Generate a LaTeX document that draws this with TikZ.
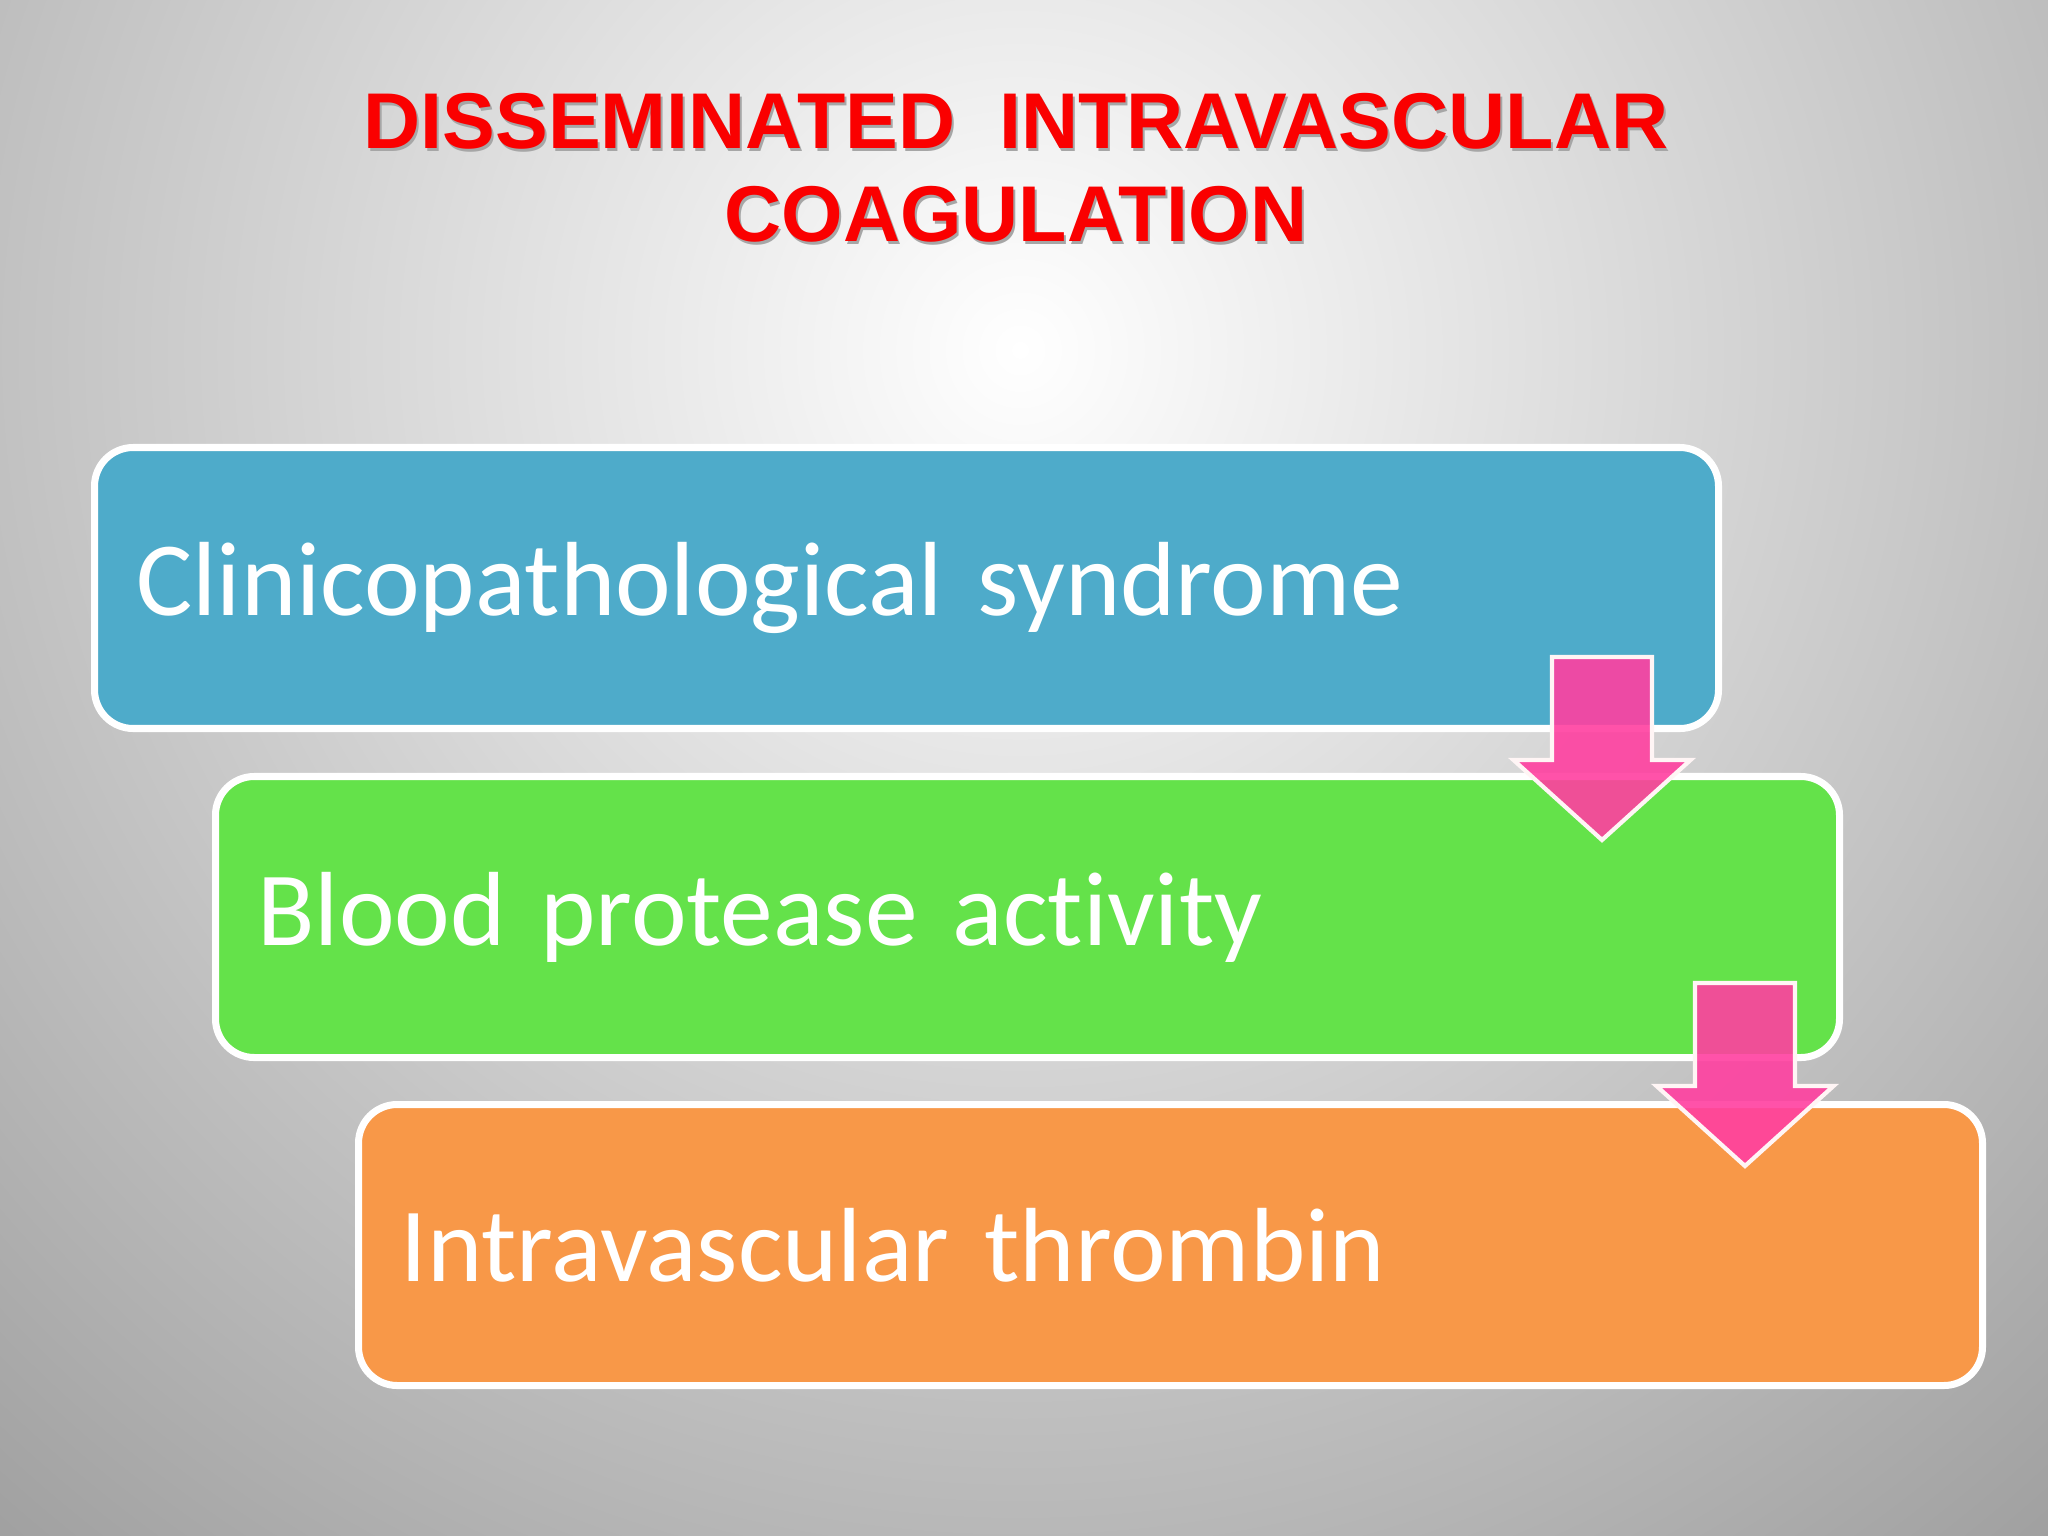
\documentclass[tikz,border=0pt]{standalone}
\usepackage{fontspec}
\setmainfont{Carlito}[Ligatures={NoCommon}]
\newfontfamily\titlefont{Liberation Sans}
\usetikzlibrary{positioning}
\definecolor{boxblue}{RGB}{78,171,202}
\definecolor{boxgreen}{RGB}{100,226,74}
\definecolor{boxorange}{RGB}{248,152,72}
\definecolor{arrowpink}{RGB}{255,64,160}
\definecolor{titlered}{RGB}{250,0,0}
\begin{document}
\begin{tikzpicture}[
    stepbox/.style={draw=white, line width=2pt, rounded corners=11pt,
      minimum width=16.24cm, minimum height=2.81cm, inner sep=0pt,
      text=white, font=\fontsize{30}{36}\selectfont, align=left,
      text width=15.4cm},
    titletext/.style={font=\titlefont\bfseries\fontsize{22.5}{26.5}\selectfont,
      text=titlered, align=center},
    downarrow/.style={fill=arrowpink, fill opacity=0.9, draw=white!85!pink,
      line width=1.2pt}
  ]
  \useasboundingbox (0,0) rectangle (20.48,-15.36);
  \begin{scope}
    \clip (0,0) rectangle (20.48,-15.36);
    \shade[inner color=white, outer color=black!45] (10.2,-3.5) circle (19cm);
  \end{scope}

  % title with soft shadow
  \node[titletext, text=black!35] at (10.18,-1.71) {DISSEMINATED\ \ INTRAVASCULAR\\COAGULATION};
  \node[titletext] (title) at (10.16,-1.68) {DISSEMINATED\ \ INTRAVASCULAR\\COAGULATION};

  % steps
  \node[stepbox, fill=boxblue, anchor=north west] (s1) at (0.91,-4.44) {Clinicopathological syndrome};
  \node[stepbox, fill=boxgreen, anchor=north west] (s2) at (2.12,-7.73) {Blood protease activity};
  \node[stepbox, fill=boxorange, anchor=north west] (s3) at (3.55,-11.01) {Intravascular thrombin};

  % arrows
  \coordinate (a1) at (16.02,-6.57);
  \coordinate (a2) at (17.45,-9.83);
  \foreach \a in {a1,a2}
    \draw[downarrow] ([xshift=-0.5cm]\a) -- ([xshift=0.5cm]\a)
      -- ++(0,-1.03) -- ++(0.385,0) -- ([yshift=-1.83cm]\a)
      -- ([xshift=-0.885cm,yshift=-1.03cm]\a) -- ([xshift=-0.5cm,yshift=-1.03cm]\a) -- cycle;
\end{tikzpicture}
\end{document}
